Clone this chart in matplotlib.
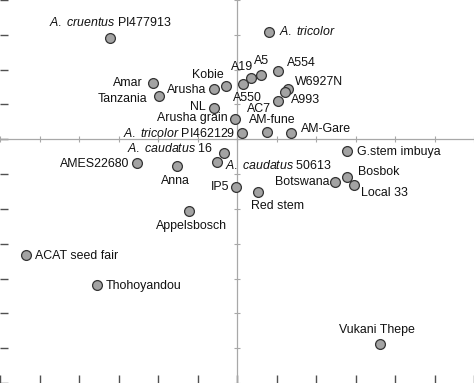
import matplotlib
matplotlib.use("Agg")
import matplotlib.pyplot as plt

plt.rcParams['font.family'] = ['Liberation Sans', 'DejaVu Sans']
plt.rcParams['mathtext.fontset'] = 'custom'
plt.rcParams['mathtext.rm'] = 'Liberation Sans'
plt.rcParams['mathtext.it'] = 'Liberation Sans:italic'

# === accession scores ===
names = [
    r"$\it{A.\;cruentus}$ PI477913", r"$\it{A.\;tricolor}$", "Amar", "Tanzania",
    "Kobie", "Arusha", "A550", "A19", "A5", "A554", "W6927N", "A993", "AC7",
    "NL", "Arusha grain", r"$\it{A.\;tricolor}$ PI462129", "AM-fune", "AM-Gare",
    "G.stem imbuya", r"$\it{A.\;caudatus}$ 16", r"$\it{A.\;caudatus}$ 50613",
    "AMES22680", "Anna", "IP5", "Red stem", "Botswana", "Bosbok", "Local 33",
    "Appelsbosch", "ACAT seed fair", "Thohoyandou", "Vukani Thepe",
]
pc1 = [-3.22, 0.81, -2.13, -1.98, -0.28, -0.58, 0.15, 0.36, 0.61, 1.04, 1.29,
       1.22, 1.04, -0.58, -0.05, 0.13, 0.76, 1.37, 2.79, -0.33, -0.51, -2.54,
       -1.52, -0.03, 0.53, 2.49, 2.79, 2.97, -1.22, -5.33, -3.55, 3.63]
pc2 = [2.92, 3.09, 1.63, 1.23, 1.52, 1.43, 1.58, 1.75, 1.86, 1.95, 1.43,
       1.35, 1.09, 0.89, 0.57, 0.17, 0.20, 0.17, -0.34, -0.40, -0.66, -0.69,
       -0.77, -1.38, -1.52, -1.23, -1.09, -1.32, -2.06, -3.32, -4.18, -5.87]

# label placement: (dx px, dy px, ha)
label_pos = {
    0: (0, 15, 'center'), 1: (10, 0, 'left'), 2: (-10, 0, 'right'),
    3: (-11, -3, 'right'), 4: (-18, 11, 'center'), 5: (-8, -1, 'right'),
    6: (4, -14, 'center'), 7: (-9, 11, 'center'), 8: (0, 14, 'center'),
    9: (9, 8, 'left'), 10: (7, 7, 'left'), 11: (6, -8, 'left'),
    12: (-19, -8, 'center'), 13: (-8, 1, 'right'), 14: (-7, 1, 'right'),
    15: (-7, 0, 'right'), 16: (5, 12, 'center'), 17: (10, 4, 'left'),
    18: (10, -1, 'left'), 19: (-11, 5, 'right'), 20: (8, -3, 'left'),
    21: (-7, -1, 'right'), 22: (-2, -15, 'center'), 23: (-6, 0, 'right'),
    24: (20, -14, 'center'), 25: (-6, 0, 'right'), 26: (11, 5, 'left'),
    27: (7, -8, 'left'), 28: (3, -15, 'center'), 29: (9, -1, 'left'),
    30: (9, -1, 'left'), 31: (-3, 14, 'center'),
}

fig = plt.figure(figsize=(4.74, 3.83), dpi=100)
ax = fig.add_axes([0, 0, 1, 1])
axis_grey = "#a8a8a8"

ax.scatter(pc1, pc2, s=50, facecolor="#a3a3a3", edgecolor="#333333",
           linewidth=0.9, zorder=3)

for i, name in enumerate(names):
    dx, dy, ha = label_pos[i]
    ax.annotate(name, (pc1[i], pc2[i]), xytext=(dx, dy),
                textcoords='offset pixels', ha=ha, va='center',
                fontsize=8.9, color="#111111", zorder=4)

ax.set_xlim(-6, 6)
ax.set_ylim(-7, 4)
ax.set_xticks(range(-6, 7))
ax.set_yticks(range(-7, 5))
ax.set_xticklabels([])
ax.set_yticklabels([])

# crossing axes through the origin
for side in ['top', 'right']:
    ax.spines[side].set_visible(False)
ax.spines['left'].set_position(('data', 0))
ax.spines['bottom'].set_position(('data', 0))
for side in ['left', 'bottom']:
    ax.spines[side].set_color(axis_grey)
    ax.spines[side].set_linewidth(0.9)
ax.tick_params(direction='inout', length=5, width=0.8, color=axis_grey)
ax.patch.set_visible(False)

# outer frame ticks (left and bottom edges)
ax2 = fig.add_axes([0, 0, 1, 1], frameon=False, zorder=-1)
ax2.set_xlim(-6, 6)
ax2.set_ylim(-7, 4)
ax2.set_xticks(range(-6, 7))
ax2.set_yticks(range(-7, 5))
ax2.set_xticklabels([])
ax2.set_yticklabels([])
ax2.tick_params(direction='in', length=6, width=1.0, color="#505050")

fig.savefig("out.png", dpi=100)
